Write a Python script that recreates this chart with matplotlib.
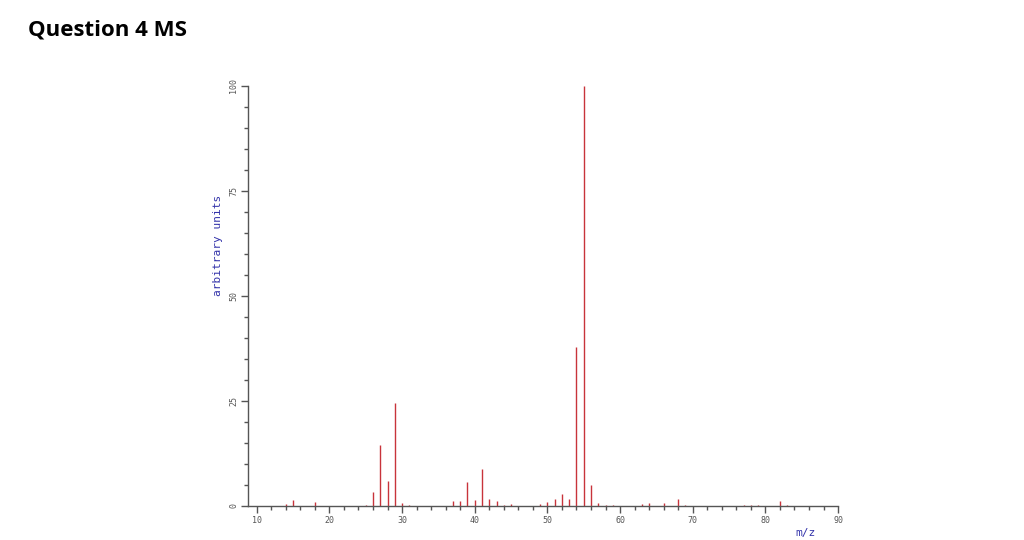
import matplotlib.pyplot as plt

# mass spectrum peaks (m/z, relative intensity)
mz = [14, 15, 18, 25, 26, 27, 28, 29, 30, 31, 37, 38, 39, 40, 41, 42, 43, 44, 45,
      49, 50, 51, 52, 53, 54, 55, 56, 57, 58, 59, 63, 64, 66, 68, 69, 77, 78, 79, 82, 83]
intensity = [0.4, 1.5, 1.0, 0.3, 3.4, 14.5, 6.0, 24.6, 0.8, 0.3, 1.1, 1.3, 5.8, 1.4, 8.7, 1.6, 1.1, 0.3, 0.4,
             0.4, 1.0, 1.6, 2.8, 1.7, 37.9, 100, 4.9, 0.8, 0.3, 0.2, 0.4, 0.8, 0.8, 1.6, 0.2, 0.2, 0.3, 0.2, 1.3, 0.3]

x_major = [10, 20, 30, 40, 50, 60, 70, 80, 90]
y_major = [0, 25, 50, 75, 100]

fig = plt.figure(figsize=(10.24, 5.4), dpi=100)
fig.text(0.027, 0.945, "Question 4 MS", fontsize=16, fontweight="bold",
         family="Open Sans", va="center", ha="left")

ax = fig.add_axes([0.2422, 0.063, 0.5762, 0.7778])
ax.vlines(mz, 0, intensity, color="#c8333b", linewidth=1.0)

ax.set_xlim(8.8, 90)
ax.set_ylim(0, 100)
for s in ["top", "right"]:
    ax.spines[s].set_visible(False)
for s in ["left", "bottom"]:
    ax.spines[s].set_color("#555555")
    ax.spines[s].set_linewidth(1.0)

ax.set_xticks(x_major)
ax.set_xticks(range(12, 90, 2), minor=True)
ax.set_yticks(y_major)
ax.set_yticks(range(5, 100, 5), minor=True)
ax.tick_params(which="major", length=5, width=1, color="#555555", labelsize=6,
               labelcolor="#555555", pad=2)
ax.tick_params(which="minor", length=3, width=1, color="#555555")
ax.set_yticklabels([str(v) for v in y_major], rotation=90, va="center",
                   family="DejaVu Sans Mono")
ax.set_xticklabels([str(v) for v in x_major], family="DejaVu Sans Mono")

ax.set_ylabel("arbitrary units", color="#3333aa", fontsize=8, family="DejaVu Sans Mono")
ax.yaxis.set_label_coords(-0.043, 0.62)
ax.text(0.945, -0.065, "m/z", transform=ax.transAxes, color="#3333aa", fontsize=8,
        family="DejaVu Sans Mono", ha="center", va="center")

fig.savefig("out.png", dpi=100)
